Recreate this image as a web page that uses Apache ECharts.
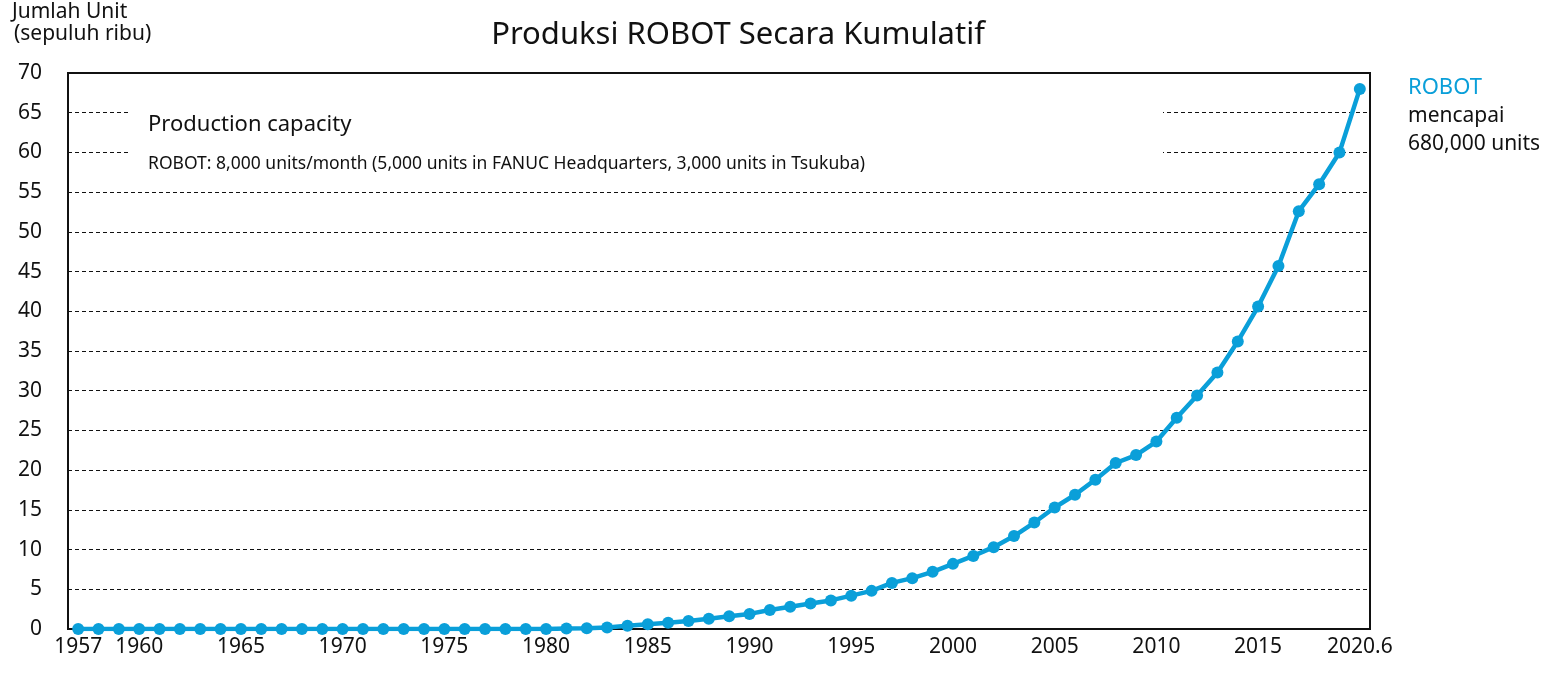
<!DOCTYPE html>
<html lang="id">
<head>
<meta charset="UTF-8">
<title>Produksi ROBOT Secara Kumulatif</title>
<script src="https://cdn.jsdelivr.net/npm/echarts@6/dist/echarts.min.js"></script>
<style>
    html, body { margin: 0; padding: 0; background: #fff; }
    #chart { width: 1552px; height: 673px; }
</style>
</head>
<body>
<div id="chart"></div>
<script>
    // tahun 1957 .. 2020 (titik terakhir = 2020.6)
    const years = [];
    for (let y = 1957; y <= 2020; y++) years.push(y);
    const shownLabels = [1957, 1960, 1965, 1970, 1975, 1980, 1985, 1990, 1995, 2000, 2005, 2010, 2015, 2020];
    const robotUnits = [
        0, 0, 0, 0, 0, 0, 0, 0, 0, 0,
        0, 0, 0, 0, 0, 0, 0, 0, 0, 0,
        0, 0, 0, 0, 0.05, 0.1, 0.2, 0.4, 0.6, 0.8,
        1.0, 1.3, 1.6, 1.9, 2.4, 2.8, 3.2, 3.6, 4.2, 4.8,
        5.8, 6.4, 7.2, 8.2, 9.2, 10.3, 11.7, 13.4, 15.3, 16.9,
        18.8, 20.9, 21.9, 23.6, 26.6, 29.4, 32.3, 36.2, 40.6, 45.7,
        52.6, 56.0, 60.0, 68.0
    ];

    const blue = '#0a9fd9';
    const font = '"Noto Sans", sans-serif';
    let showLabel = function (idx) { return shownLabels.indexOf(years[idx]) >= 0; };

    let myChart = echarts.init(document.getElementById('chart'));
    myChart.setOption({
        animation: false,
        textStyle: {fontFamily: font},
        title: {
            text: 'Produksi ROBOT Secara Kumulatif',
            left: 733, top: 15, textAlign: 'center',
            textStyle: {fontSize: 31, fontWeight: 'normal', color: '#111', fontFamily: font}
        },
        grid: {left: 68, right: 182, top: 73, bottom: 44},
        xAxis: {
            type: 'category',
            data: years,
            boundaryGap: true,
            axisLine: {lineStyle: {color: '#111', width: 2}},
            axisTick: {alignWithLabel: true, interval: showLabel, lineStyle: {color: '#111'}},
            axisLabel: {
                interval: showLabel,
                color: '#111', fontSize: 21, margin: 8,
                formatter: function (v) { return v === '2020' ? '2020.6' : v; }
            }
        },
        yAxis: {
            type: 'value',
            min: 0, max: 70, interval: 5,
            axisLine: {show: true, lineStyle: {color: '#111', width: 2}},
            axisTick: {show: false},
            axisLabel: {color: '#111', fontSize: 21, margin: 26},
            splitLine: {lineStyle: {color: '#111', type: [4, 3], width: 1}}
        },
        series: [{
            type: 'line',
            data: robotUnits,
            symbol: 'circle',
            symbolSize: 12,
            lineStyle: {color: blue, width: 4.5},
            itemStyle: {color: blue},
            z: 5
        }],
        graphic: [
            {type: 'rect', shape: {x: 131, y: 100, width: 1032, height: 66}, style: {fill: '#fff'}, z: 1},
            {type: 'rect', shape: {x: 68, y: 73, width: 1302, height: 556}, style: {fill: 'none', stroke: '#111', lineWidth: 2}, z: 2},
            {type: 'text', left: 12, top: 2, z: 10, style: {text: 'Jumlah Unit', fontSize: 21, fill: '#111', fontFamily: font}},
            {type: 'text', left: 14, top: 24, z: 10, style: {text: '(sepuluh ribu)', fontSize: 21, fill: '#111', fontFamily: font}},
            {type: 'text', left: 148, top: 114, z: 10, style: {text: 'Production capacity', fontSize: 22, fill: '#111', fontFamily: font}},
            {type: 'text', left: 148, top: 155, z: 10, style: {text: 'ROBOT: 8,000 units/month (5,000 units in FANUC Headquarters, 3,000 units in Tsukuba)', fontSize: 17.5, fill: '#111', fontFamily: font}},
            {type: 'text', left: 1408, top: 77, z: 10, style: {text: 'ROBOT', fontSize: 22, fill: blue, fontFamily: font}},
            {type: 'text', left: 1408, top: 106, z: 10, style: {text: 'mencapai', fontSize: 21, fill: '#111', fontFamily: font}},
            {type: 'text', left: 1408, top: 134, z: 10, style: {text: '680,000 units', fontSize: 21, fill: '#111', fontFamily: font}}
        ]
    });
</script>
</body>
</html>
